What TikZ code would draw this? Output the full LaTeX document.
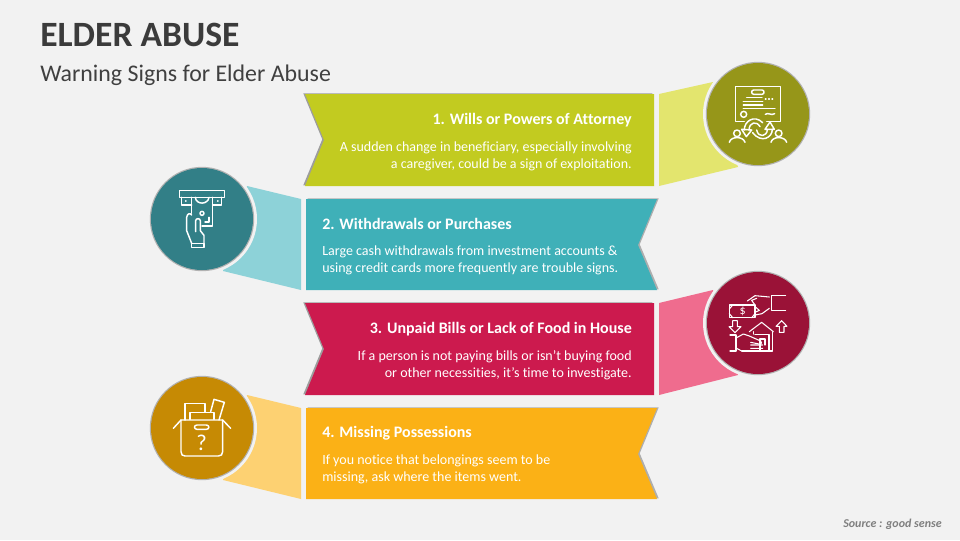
\documentclass[tikz,border=0pt]{standalone}
\usepackage{fontspec}
\setmainfont{Carlito}[Ligatures=NoCommon]
\usetikzlibrary{shadows}
\definecolor{canvas}{HTML}{F2F2F2}
\definecolor{titlegray}{HTML}{3B3B3B}
\definecolor{subgray}{HTML}{404040}
\definecolor{sourcegray}{HTML}{7F7F7F}
\definecolor{limedark}{HTML}{969619}
\definecolor{limemid}{HTML}{C2CB20}
\definecolor{limelight}{HTML}{E3E56E}
\definecolor{tealdark}{HTML}{327F87}
\definecolor{tealmid}{HTML}{3FB0B8}
\definecolor{teallight}{HTML}{8DD2D8}
\definecolor{rosedark}{HTML}{9A1237}
\definecolor{rosemid}{HTML}{CC1A4E}
\definecolor{roselight}{HTML}{EF6C8E}
\definecolor{golddark}{HTML}{C68A04}
\definecolor{goldmid}{HTML}{FBB116}
\definecolor{goldlight}{HTML}{FDD172}
\tikzset{
  ribbonleft/.style={fill=#1,drop shadow={shadow xshift=-1.3pt,shadow yshift=.5pt,opacity=.35,fill=black}},
  ribbonright/.style={fill=#1,drop shadow={shadow xshift=1.3pt,shadow yshift=.5pt,opacity=.28,fill=black}},
  badge/.style={circle,inner sep=0pt,minimum size=76.5pt,fill=#1,
    preaction={draw=canvas,line width=6pt},
    preaction={draw=black!30,line width=1.8pt}},
  headtext/.style={text=white,font=\fontsize{12}{14}\selectfont\bfseries,inner sep=0pt},
  bodytext/.style={text=white,font=\fontsize{10.5}{12.75}\selectfont,inner sep=0pt,align=#1},
  iconline/.style={draw=white,line width=1.1pt,line join=round,line cap=round},
  thinline/.style={draw=white,line width=.8pt,line join=round,line cap=round}
}
\begin{document}
\begin{tikzpicture}[x=.75pt,y=-.75pt]
  \fill[canvas] (0,0) rectangle (960,540);
  \useasboundingbox (0,0) rectangle (960,540);
  \node[anchor=west,inner sep=0pt,text=titlegray,font=\fontsize{26.7}{28}\selectfont\bfseries] (title) at (40,35) {ELDER ABUSE};
  \node[anchor=west,inner sep=0pt,text=subgray,font=\fontsize{17.9}{20}\selectfont] (subtitle) at (40,75) {Warning Signs for Elder Abuse};
  \node[anchor=east,inner sep=0pt,text=sourcegray,font=\fontsize{9}{10}\selectfont\bfseries\itshape] (source) at (942,524) {Source : good sense};

  \fill[limelight] (659,94) -- (713,82) -- (738,167) -- (659,186) -- cycle;
  \fill[teallight] (301,199) -- (247,186) -- (223,271) -- (301,290) -- cycle;
  \fill[roselight] (659,303) -- (713,290) -- (738,375) -- (659,395) -- cycle;
  \fill[goldlight] (301,408) -- (247,395) -- (223,480) -- (301,499) -- cycle;

  \path[ribbonleft=limemid] (305,94) -- (654,94) -- (654,186) -- (305,186) -- (324,140) -- cycle;
  \path[ribbonright=tealmid] (306,199) -- (657,199) -- (638,245) -- (657,290) -- (306,290) -- cycle;
  \path[ribbonleft=rosemid] (305,303) -- (654,303) -- (654,395) -- (305,395) -- (324,349) -- cycle;
  \path[ribbonright=goldmid] (306,408) -- (657,408) -- (638,454) -- (657,499) -- (306,499) -- cycle;

  \node[badge=limedark] (wills) at (758,114) {};
  \node[badge=tealdark] (cash) at (202,219) {};
  \node[badge=rosedark] (bills) at (758,323) {};
  \node[badge=golddark] (box) at (202,428) {};

  \node[headtext,anchor=east] (willshead) at (632,120) {1. Wills or Powers of Attorney};
  \node[bodytext=right,anchor=east] (willsbody) at (632,156) {A sudden change in beneficiary, especially involving\\a caregiver, could be a sign of exploitation.};
  \node[headtext,anchor=west] (cashhead) at (322,224) {2. Withdrawals or Purchases};
  \node[bodytext=left,anchor=west] (cashbody) at (322,260) {Large cash withdrawals from investment accounts \&\\using credit cards more frequently are trouble signs.};
  \node[headtext,anchor=east] (billshead) at (632,329) {3. Unpaid Bills or Lack of Food in House};
  \node[bodytext=right,anchor=east] (billsbody) at (632,365) {If a person is not paying bills or isn’t buying food\\or other necessities, it’s time to investigate.};
  \node[headtext,anchor=west] (boxhead) at (322,433) {4. Missing Possessions};
  \node[bodytext=left,anchor=west] (boxbody) at (322,469) {If you notice that belongings seem to be\\missing, ask where the items went.};

  \begin{scope}[shift={(640,50)},scale=1/3]
    \draw[iconline] (313,215) -- (287,215) -- (287,110) -- (422,110) -- (422,215) -- (380,215);
    \draw[iconline] (341,120) -- (366,120) .. controls (374,120) and (374,133) .. (366,133) -- (341,133) .. controls (333,133) and (333,120) .. (341,120) -- cycle;
    \draw[iconline] (320,143) -- (366,143) (310,155) -- (368,155) (310,165) -- (368,165) (310,175) -- (405,175);
    \draw[iconline] (376,147) -- (378,147) (386,147) -- (388,147) (396,147) -- (398,147);
    \draw[iconline] (311,193) circle (9);
    \draw[iconline] (376,193) .. controls (384,186) and (394,198) .. (404,191);
    \draw[iconline] (313,240) .. controls (312,215) and (342,192) .. (368,218) (360,230) .. controls (350,212) and (328,216) .. (327,240);
    \draw[iconline] (305,238) -- (319,260) -- (335,240) -- cycle;
    \draw[iconline] (397,238) .. controls (397,262) and (365,282) .. (338,248) (350,240) .. controls (355,265) and (382,260) .. (382,238);
    \draw[iconline] (375,238) -- (390,216) -- (403,238) -- cycle;
    \draw[iconline] (291,250) circle (10);
    \draw[iconline] (268,277) .. controls (272,258) and (310,258) .. (315,277);
    \draw[iconline] (416,250) circle (10);
    \draw[iconline] (393,277) .. controls (397,258) and (435,258) .. (440,277);
  \end{scope}

  \begin{scope}[shift={(140,160)},scale=1/3]
    \draw[iconline] (118,92) rectangle (253,112);
    \draw[iconline] (125,112) -- (125,135) -- (155,135) (218,135) -- (245,135) -- (245,112);
    \draw[iconline] (137,123) -- (138,123) (233,123) -- (234,123);
    \draw[iconline] (155,160) -- (155,112) (218,112) -- (218,198) -- (186,198);
    \draw[iconline] (166,112) .. controls (168,135) and (204,135) .. (207,112);
    \draw[iconline] (186,160) circle (6);
    \draw[iconline] (207,172) -- (207,186) -- (195,186);
    \draw[iconline] (155,250) rectangle (192,262);
    \draw[iconline] (155,250) -- (140,212) -- (140,172) .. controls (142,160) and (150,158) .. (155,165);
    \draw[iconline] (167,215) -- (167,182) .. controls (168,174) and (180,174) .. (181,182) -- (181,212) -- (192,226) -- (192,250);
  \end{scope}

  \begin{scope}[shift={(640,265)},scale=1/3]
    \draw[thinline] (437,92) -- (395,92) -- (395,137) -- (437,137);
    \draw[thinline] (388,96) -- (345,92) -- (322,108) (345,120) -- (335,106) -- (350,100);
    \draw[thinline] (388,130) -- (366,146) -- (345,150) (345,125) -- (358,136) -- (345,142);
    \draw[thinline] (268,120) rectangle (345,158);
    \draw[thinline] (268,132) -- (278,120) (268,146) -- (278,158) (335,158) -- (345,146);
    \node[text=white,inner sep=0pt,font=\fontsize{9}{9}\selectfont] (dollar) at (308,139) {\$};
    \draw[thinline] (278,167) -- (292,167) -- (292,185) -- (303,185) -- (285,203) -- (267,185) -- (278,185) -- cycle;
    \draw[thinline] (418,202) -- (432,202) -- (432,184) -- (441,184) -- (425,167) -- (408,184) -- (418,184) -- cycle;
    \draw[thinline] (328,200) -- (365,172) -- (400,200);
    \draw[thinline] (340,200) -- (340,207) (397,200) -- (397,258) -- (305,258);
    \draw[thinline] (345,208) -- (387,208) -- (387,258) (360,258) -- (360,222) -- (375,222) -- (375,240);
    \draw[thinline] (270,210) -- (288,210) -- (288,258) -- (270,258);
    \draw[thinline] (290,218) -- (310,207) -- (328,213) -- (362,228) .. controls (368,236) and (362,240) .. (352,236) -- (332,232);
    \draw[thinline] (290,250) -- (305,258) (332,240) -- (368,240) (332,250) -- (368,250);
  \end{scope}

  \begin{scope}[shift={(140,370)},scale=1/3]
    \draw[iconline] (100,175) -- (123,150) -- (248,150) -- (272,175);
    \draw[iconline] (123,150) -- (123,245) .. controls (123,254) and (128,258) .. (135,258) -- (235,258) .. controls (243,258) and (248,254) .. (248,245) -- (248,150);
    \draw[iconline] (171,165) -- (199,165) .. controls (209,165) and (209,178) .. (199,178) -- (171,178) .. controls (161,178) and (161,165) .. (171,165) -- cycle;
    \draw[iconline] (135,150) -- (135,100) -- (195,100) -- (195,125);
    \draw[iconline] (150,148) -- (150,127) -- (222,127) -- (222,148);
    \draw[iconline] (212,125) -- (222,88) -- (253,97) -- (237,150);
    \node[text=white,inner sep=0pt,font=\fontsize{17}{17}\selectfont] (question) at (185,219) {?};
  \end{scope}
\end{tikzpicture}
\end{document}
